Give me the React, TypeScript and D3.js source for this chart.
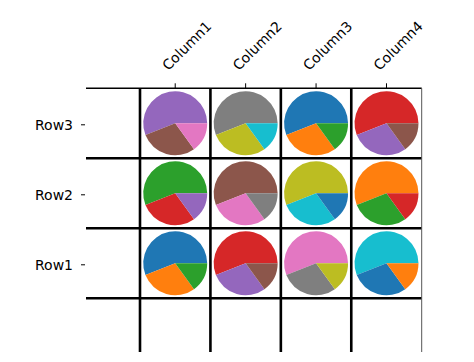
import React, { useEffect, useRef } from "react";
import * as d3 from "d3";

// column and row labels of the grid
const columns = ["Column1", "Column2", "Column3", "Column4"];
const rows = ["Row3", "Row2", "Row1"];

// wedge shares of every pie (same for each cell)
const shares = [56, 29, 15];

// tab10 colour index of the first wedge in each cell, rows top to bottom
const row3Start = [4, 7, 0, 3];
const row2Start = [2, 5, 8, 1];
const row1Start = [0, 3, 6, 9];

const tab10 = d3.schemeCategory10;

export default function App() {
    const svgRef = useRef<SVGSVGElement | null>(null);

    useEffect(() => {
        const svg = d3.select(svgRef.current);
        svg.selectAll("*").remove();

        const width = 474;
        const height = 362;
        svg.attr("width", width).attr("height", height);

        const left = 86;
        const top = 88.3;
        const bottom = 352;

        //band scales for the grid, one spare empty row below
        const x = d3.scaleBand().domain(columns).range([140, 421.7]).padding(0);
        const y = d3.scaleBand()
            .domain([...rows, ""])
            .range([top, top + 4 * 70])
            .padding(0);

        const starts = [row3Start, row2Start, row1Start];

        //pies
        const pie = d3.pie<number>()
            .sort(null)
            .startAngle(Math.PI / 2)
            .endAngle(Math.PI / 2 - 2 * Math.PI);
        const arc = d3.arc<d3.PieArcDatum<number>>().innerRadius(0).outerRadius(32);

        rows.forEach((r, ri) => {
            columns.forEach((c, ci) => {
                const cx = x(c)! + x.bandwidth() / 2;
                const cy = y(r)! + y.bandwidth() / 2;
                svg.append("g")
                    .attr("transform", `translate(${cx},${cy})`)
                    .selectAll("path")
                    .data(pie(shares))
                    .join("path")
                    .attr("d", arc)
                    .attr("fill", (d, i) => tab10[(starts[ri][ci] + i) % 10]);
            });
        });

        //horizontal grid lines
        const hLines = [...rows, ""].map((r) => y(r)!);
        svg.append("g")
            .selectAll("line")
            .data(hLines)
            .join("line")
            .attr("x1", left)
            .attr("x2", 421.7)
            .attr("y1", (d) => d)
            .attr("y2", (d) => d)
            .attr("stroke", "#000")
            .attr("stroke-width", (d, i) => (i === 0 ? 1.6 : 2.6));

        //vertical grid lines
        svg.append("g")
            .selectAll("line")
            .data(columns)
            .join("line")
            .attr("x1", (d) => x(d)!)
            .attr("x2", (d) => x(d)!)
            .attr("y1", top)
            .attr("y2", bottom)
            .attr("stroke", "#000")
            .attr("stroke-width", 2.6);

        //thin right border
        svg.append("line")
            .attr("x1", 421.7)
            .attr("x2", 421.7)
            .attr("y1", top)
            .attr("y2", bottom)
            .attr("stroke", "#555")
            .attr("stroke-width", 1);

        //column ticks and rotated labels
        const colG = svg.append("g");
        columns.forEach((c) => {
            const cx = x(c)! + x.bandwidth() / 2;
            colG.append("line")
                .attr("x1", cx)
                .attr("x2", cx)
                .attr("y1", top - 5)
                .attr("y2", top)
                .attr("stroke", "#000")
                .attr("stroke-width", 1);
            colG.append("text")
                .attr("transform", `translate(${cx - 7},${top - 17}) rotate(-45)`)
                .attr("font-family", "DejaVu Sans")
                .attr("font-size", "14px")
                .attr("fill", "#000")
                .text(c);
        });

        //row ticks and labels
        const rowG = svg.append("g");
        rows.forEach((r) => {
            const cy = y(r)! + y.bandwidth() / 2;
            rowG.append("line")
                .attr("x1", 81)
                .attr("x2", 85)
                .attr("y1", cy + 1.5)
                .attr("y2", cy + 1.5)
                .attr("stroke", "#000")
                .attr("stroke-width", 1);
            rowG.append("text")
                .attr("x", 73)
                .attr("y", cy + 1.5)
                .attr("dy", "0.35em")
                .attr("text-anchor", "end")
                .attr("font-family", "DejaVu Sans")
                .attr("font-size", "14px")
                .attr("fill", "#000")
                .text(r);
        });
    }, []);

    return (
        <div style={{ position: "absolute", left: 0, top: 0 }}>
            <svg ref={svgRef}></svg>
        </div>
    );
}
